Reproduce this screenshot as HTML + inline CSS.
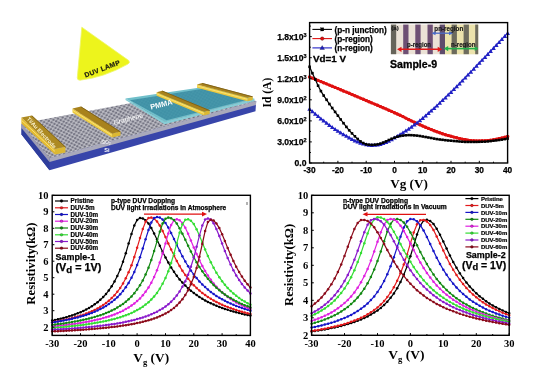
<!DOCTYPE html><html><head><meta charset="utf-8"><title>DUV doping graphene</title>
<style>html,body{margin:0;padding:0;background:#fff}svg{display:block}</style></head><body>
<svg width="550" height="369" viewBox="0 0 550 369">
<rect width="550" height="369" fill="#fff"/>
<g>
<defs><marker id="mk" markerUnits="userSpaceOnUse" markerWidth="4" markerHeight="4" refX="2" refY="2"><circle cx="2" cy="2" r="1.25" fill="#000"/></marker><marker id="mr" markerUnits="userSpaceOnUse" markerWidth="4" markerHeight="4" refX="2" refY="2"><circle cx="2" cy="2" r="1.25" fill="#e31a1c"/></marker><marker id="mb" markerUnits="userSpaceOnUse" markerWidth="4" markerHeight="4" refX="2" refY="2"><circle cx="2" cy="2" r="1.25" fill="#1515c8"/></marker><marker id="mg" markerUnits="userSpaceOnUse" markerWidth="4" markerHeight="4" refX="2" refY="2"><circle cx="2" cy="2" r="1.25" fill="#118811"/></marker><marker id="mm" markerUnits="userSpaceOnUse" markerWidth="4" markerHeight="4" refX="2" refY="2"><circle cx="2" cy="2" r="1.25" fill="#e020e0"/></marker><marker id="mG" markerUnits="userSpaceOnUse" markerWidth="4" markerHeight="4" refX="2" refY="2"><circle cx="2" cy="2" r="1.25" fill="#33dd33"/></marker><marker id="mp" markerUnits="userSpaceOnUse" markerWidth="4" markerHeight="4" refX="2" refY="2"><circle cx="2" cy="2" r="1.25" fill="#8a1acc"/></marker><marker id="mR" markerUnits="userSpaceOnUse" markerWidth="4" markerHeight="4" refX="2" refY="2"><circle cx="2" cy="2" r="1.25" fill="#8b0a1a"/></marker><marker id="tk" markerUnits="userSpaceOnUse" markerWidth="4" markerHeight="4" refX="2" refY="2"><rect x="0.7" y="0.7" width="2.6" height="2.6" fill="#000"/></marker><marker id="tr" markerUnits="userSpaceOnUse" markerWidth="4" markerHeight="4" refX="2" refY="2"><circle cx="2" cy="2" r="1.7" fill="#e01010"/></marker><marker id="tb" markerUnits="userSpaceOnUse" markerWidth="5" markerHeight="5" refX="2.5" refY="2.5"><path d="M2.5 0.3L4.8 4.3H0.2Z" fill="#2020c4"/></marker></defs>
<defs><pattern id="gr" patternUnits="userSpaceOnUse" width="4.8" height="4.2" patternTransform="rotate(-14)"><rect width="4.8" height="4.2" fill="#bbbbc3"/><ellipse cx="1.2" cy="1.05" rx="1.3" ry="1.0" fill="#70707f"/><ellipse cx="3.6" cy="3.15" rx="1.3" ry="1.0" fill="#70707f"/></pattern><pattern id="pm" patternUnits="userSpaceOnUse" width="4" height="3.6" patternTransform="rotate(-14)"><rect width="4" height="3.6" fill="#4596aa"/><circle cx="1" cy="0.9" r="0.7" fill="#3a889e"/><circle cx="3" cy="2.7" r="0.7" fill="#3a889e"/></pattern><filter id="soft" x="-5%" y="-5%" width="110%" height="110%"><feGaussianBlur stdDeviation="0.45"/></filter></defs>
<g filter="url(#soft)">
<polygon points="21.5,123.5 49.5,158 256.2,101 255.5,111.3 49.5,170.2 21.5,134.5" fill="#3845aa"/>
<polygon points="21.5,128 49.5,162 49.5,170.2 21.5,134.5" fill="#2f3c9c"/>
<polygon points="21.5,123.5 49.5,158 49.5,162 21.5,128" fill="#9c9cb2"/>
<polygon points="49.5,158 256.2,101 256,105 49.5,162" fill="#a9a9bb"/>
<polygon points="21.5,123.5 49.5,158 256.2,101 206,89" fill="url(#gr)"/>
<polygon points="125.5,98.6 164.5,121.8 254.5,98.8 254.5,101 164.5,124.2 125.5,100.1" fill="#86cdd6"/>
<polygon points="125.5,98.6 164.5,121.8 254.5,98.8 205.5,86.8" fill="#6fbfca"/>
<polygon points="130,100.2 166.5,120.2 248.5,99.6 204.5,88.6" fill="url(#pm)"/>
<polygon points="21.4,117.6 54.9,148.8 54.9,154.6 21.4,123.4" fill="#e2b930"/>
<polygon points="54.9,148.8 65.4,146.7 65.4,152.5 54.9,154.6" fill="#dcb832"/>
<polygon points="21.4,117.6 31.9,115.5 65.4,146.7 54.9,148.8" fill="#ad8a22"/>
<path d="M21.4 120.2L54.9 151.4" stroke="#f9e47a" stroke-width="0.9"/>
<path d="M31.9 115.8L65.4 147" stroke="#7e6016" stroke-width="0.9"/>
<polygon points="72.5,108.4 112.1,133.5 112.1,137.5 72.5,112.4" fill="#ecc93e"/>
<polygon points="112.1,133.5 120.5,131.6 120.5,135.6 112.1,137.5" fill="#dcb832"/>
<polygon points="72.5,108.4 80.9,106.5 120.5,131.6 112.1,133.5" fill="#a8821e"/>
<path d="M72.5 110.2L112.1 135.3" stroke="#f9e47a" stroke-width="0.9"/>
<path d="M80.9 106.8L120.5 131.9" stroke="#7e6016" stroke-width="0.9"/>
<polygon points="156.6,92.2 204.1,111.8 204.1,115.4 156.6,95.8" fill="#ecc93e"/>
<polygon points="204.1,111.8 209.7,110.3 209.7,113.9 204.1,115.4" fill="#dcb832"/>
<polygon points="156.6,92.2 162.2,90.7 209.7,110.3 204.1,111.8" fill="#a8821e"/>
<path d="M156.6 93.8L204.1 113.4" stroke="#f9e47a" stroke-width="0.9"/>
<path d="M162.2 91L209.7 110.6" stroke="#7e6016" stroke-width="0.9"/>
<polygon points="197,84.4 247.5,97.8 247.5,101.2 197,87.8" fill="#ecc93e"/>
<polygon points="247.5,97.8 252.7,96.5 252.7,99.9 247.5,101.2" fill="#dcb832"/>
<polygon points="197,84.4 202.2,83.1 252.7,96.5 247.5,97.8" fill="#a8821e"/>
<path d="M197 85.9L247.5 99.3" stroke="#f9e47a" stroke-width="0.9"/>
<path d="M202.2 83.4L252.7 96.8" stroke="#7e6016" stroke-width="0.9"/>
</g>
<g font-family="'Liberation Sans',Arial,sans-serif" fill="#fff">
<text transform="translate(26.5 119.3) rotate(47)" font-size="5.5" font-weight="bold" fill="#fbf4d0">Ti/Au Electrode</text>
<text transform="translate(114.2 125) rotate(-15)" font-size="6.8">Graphene</text>
<text transform="translate(151 109.6) rotate(-14)" font-size="7.4" font-weight="bold">PMMA</text>
<text x="101.2" y="144.3" font-size="4.6">SiO<tspan font-size="3.4" dy="1">2</tspan></text>
<text x="104.3" y="152" font-size="5.6" font-weight="bold">Si</text>
</g>
<path d="M81.8 27.2 L128.8 60.6 Q130.5 63 127.5 64.3 Q104 77.5 80.2 80.2 Q77.2 80.5 77.3 77.5 Z" fill="#edf41e" stroke="#eef66a" stroke-width="0.8" filter="url(#soft)"/>
<text transform="translate(85.6 77.6) rotate(-21)" font-family="'Liberation Sans',Arial,sans-serif" font-size="6.8" font-weight="bold" letter-spacing="0.25" fill="#1a1a10" stroke="#1a1a10" stroke-width="0.2">DUV LAMP</text>
<polyline points="309.6,77 312.4,78.1 315.3,79.3 318.1,80.4 320.9,81.6 323.7,82.8 326.6,83.9 329.4,85.1 332.2,86.2 335.1,87.4 337.9,88.6 340.7,89.8 343.5,91 346.4,92.1 349.2,93.3 352,94.5 354.9,95.7 357.7,96.9 360.5,98.1 363.3,99.3 366.2,100.5 369,101.7 371.8,102.9 374.7,104.1 377.5,105.3 380.3,106.5 383.1,107.7 386,108.9 388.8,110.2 391.6,111.4 394.5,112.7 397.3,114 400.1,115.3 402.9,116.6 405.8,118.1 408.6,119.5 411.4,120.9 414.3,122.2 417.1,123.5 419.9,124.7 422.7,126 425.6,127.2 428.4,128.4 431.2,129.5 434.1,130.7 436.9,131.8 439.7,132.8 442.5,133.8 445.4,134.7 448.2,135.5 451,136.3 453.9,137.1 456.7,137.8 459.5,138.5 462.3,139.1 465.2,139.6 468,140.1 470.8,140.5 473.7,140.8 476.5,140.9 479.3,140.9 482.1,140.8 485,140.7 487.8,140.5 490.6,140.3 493.5,139.8 496.3,139.2 499.1,138.6 501.9,137.9 504.8,137.2 507.6,136.5" fill="none" stroke="#e01010" stroke-width="2.6" marker-start="url(#tr)" marker-mid="url(#tr)" marker-end="url(#tr)"/>
<polyline points="309.6,108.9 312.4,111.5 315.3,113.9 318.1,116.3 320.9,118.6 323.7,120.8 326.6,123 329.4,125.2 332.2,127.3 335.1,129.2 337.9,131 340.7,132.7 343.5,134.4 346.4,136 349.2,137.6 352,139.2 354.9,140.6 357.7,141.8 360.5,142.9 363.3,143.8 366.2,144.5 369,145 371.8,145.1 374.7,144.9 377.5,144.6 380.3,144.1 383.1,143.3 386,142.3 388.8,141 391.6,139.4 394.5,137.7 397.3,136.1 400.1,134.4 402.9,132.6 405.8,130.8 408.6,128.9 411.4,126.9 414.3,124.8 417.1,122.6 419.9,120.4 422.7,118.1 425.6,115.7 428.4,113.2 431.2,110.7 434.1,108.2 436.9,105.6 439.7,102.9 442.5,100.3 445.4,97.6 448.2,94.8 451,92.1 453.9,89.3 456.7,86.5 459.5,83.6 462.3,80.7 465.2,77.8 468,74.8 470.8,71.9 473.7,68.9 476.5,65.9 479.3,63 482.1,60 485,57.1 487.8,54.1 490.6,51.1 493.5,48.1 496.3,45.1 499.1,42.2 501.9,39.2 504.8,36.1 507.6,33.1" fill="none" stroke="#2020c4" stroke-width="1.2" marker-start="url(#tb)" marker-mid="url(#tb)" marker-end="url(#tb)"/>
<polyline points="309.6,66.8 312.4,73.2 315.3,79.5 318.1,85.7 320.9,91.1 323.7,95.6 326.6,99.8 329.4,104 332.2,108 335.1,111.9 337.9,115.7 340.7,119.5 343.5,123.2 346.4,126.9 349.2,130.3 352,133.4 354.9,136.3 357.7,139 360.5,141.4 363.3,143.1 366.2,144.3 369,144.7 371.8,144.9 374.7,144.7 377.5,144.4 380.3,143.7 383.1,142.6 386,141.4 388.8,140 391.6,138.8 394.5,137.7 397.3,136.7 400.1,136 402.9,135.6 405.8,135.3 408.6,135.1 411.4,135.2 414.3,135.4 417.1,135.6 419.9,136 422.7,136.5 425.6,137 428.4,137.5 431.2,138 434.1,138.6 436.9,139.1 439.7,139.5 442.5,139.8 445.4,140.2 448.2,140.5 451,140.7 453.9,141 456.7,141.2 459.5,141.5 462.3,141.7 465.2,141.9 468,141.9 470.8,141.9 473.7,141.9 476.5,141.9 479.3,141.8 482.1,141.7 485,141.6 487.8,141.4 490.6,141.1 493.5,140.7 496.3,140.4 499.1,140 501.9,139.6 504.8,139.1 507.6,138.6" fill="none" stroke="#000" stroke-width="1.2" marker-start="url(#tk)" marker-mid="url(#tk)" marker-end="url(#tk)"/>
<path d="M309.6 163v-2.2M337.9 163v-2.2M366.2 163v-2.2M394.5 163v-2.2M422.7 163v-2.2M451 163v-2.2M479.3 163v-2.2M507.6 163v-2.2M323.7 163v-1.3M352 163v-1.3M380.3 163v-1.3M408.6 163v-1.3M436.9 163v-1.3M465.2 163v-1.3M493.5 163v-1.3M309.6 163h2.2M309.6 141.9h2.2M309.6 120.9h2.2M309.6 99.8h2.2M309.6 78.8h2.2M309.6 57.7h2.2M309.6 36.6h2.2M309.6 152.5h1.3M309.6 131.4h1.3M309.6 110.3h1.3M309.6 89.3h1.3M309.6 68.2h1.3M309.6 47.2h1.3M309.6 26.1h1.3" stroke="#000" stroke-width="1" fill="none"/>
<rect x="309.6" y="22.6" width="198" height="140.4" fill="none" stroke="#000" stroke-width="1.4"/>
<g font-family="'Liberation Sans',Arial,sans-serif" font-weight="bold" font-size="8.3" fill="#000" stroke="#000" stroke-width="0.25" text-anchor="middle">
<text x="309.6" y="172.6">-30</text>
<text x="337.9" y="172.6">-20</text>
<text x="366.2" y="172.6">-10</text>
<text x="394.5" y="172.6">0</text>
<text x="422.7" y="172.6">10</text>
<text x="451" y="172.6">20</text>
<text x="479.3" y="172.6">30</text>
<text x="507.6" y="172.6">40</text>
</g>
<g font-family="'Liberation Sans',Arial,sans-serif" font-weight="bold" font-size="8.6" fill="#000" stroke="#000" stroke-width="0.25" text-anchor="end">
<text x="306.5" y="166">0.0</text>
<text x="306.5" y="144.9">3.0x10<tspan dy="-3" font-size="5.5">2</tspan></text>
<text x="306.5" y="123.9">6.0x10<tspan dy="-3" font-size="5.5">2</tspan></text>
<text x="306.5" y="102.8">9.0x10<tspan dy="-3" font-size="5.5">2</tspan></text>
<text x="306.5" y="81.8">1.2x10<tspan dy="-3" font-size="5.5">3</tspan></text>
<text x="306.5" y="60.7">1.5x10<tspan dy="-3" font-size="5.5">3</tspan></text>
<text x="306.5" y="39.6">1.8x10<tspan dy="-3" font-size="5.5">3</tspan></text>
</g>
<text x="409" y="188.4" font-family="'Liberation Serif','Times New Roman',serif" font-weight="bold" font-size="13.2" text-anchor="middle">Vg (V)</text>
<text transform="translate(271.4 92.6) rotate(-90)" font-family="'Liberation Serif','Times New Roman',serif" font-weight="bold" font-size="11.5" text-anchor="middle">Id (A)</text>
<g font-family="'Liberation Sans',Arial,sans-serif" font-weight="bold" font-size="8.2" fill="#000" stroke="#000" stroke-width="0.25">
<path d="M312.4 29.4H332" stroke="#000" stroke-width="1.1"/>

<rect x="320.6" y="27.8" width="3.2" height="3.2" fill="#000"/>
<text x="334.5" y="32.6">(p-n junction)</text>
<path d="M312.4 38.6H332" stroke="#e01010" stroke-width="1.1"/>

<circle cx="322.2" cy="38.6" r="1.8" fill="#e01010"/>
<text x="334.5" y="41.9">(p-region)</text>
<path d="M312.4 47.9H332" stroke="#2020c4" stroke-width="1.1"/>

<path d="M322.2 45.5l2.3 4h-4.6z" fill="#2020c4"/>
<text x="334.5" y="51.1">(n-region)</text>
</g>
<text x="313" y="62.2" font-family="'Liberation Sans',Arial,sans-serif" font-weight="bold" font-size="9.8" stroke="#000" stroke-width="0.3">Vd=1 V</text>
<rect x="390.9" y="24.6" width="87.3" height="29.6" fill="#ebe2d6"/>
<rect x="443.7" y="24.6" width="34.5" height="29.6" fill="#ece3ac"/>
<rect x="390.9" y="24.6" width="5.3" height="29.6" fill="#66645a"/>
<rect x="403.2" y="24.6" width="5.3" height="29.6" fill="#6e5074"/>
<rect x="415.3" y="24.6" width="5.3" height="29.6" fill="#6e5074"/>
<rect x="427.5" y="24.6" width="5.3" height="29.6" fill="#6e5074"/>
<rect x="439.7" y="24.6" width="5.3" height="29.6" fill="#5e4c6c"/>
<rect x="451.6" y="24.6" width="5.3" height="29.6" fill="#6c6a5c"/>
<rect x="463.6" y="24.6" width="5.3" height="29.6" fill="#6e6c5e"/>
<rect x="475.2" y="24.6" width="3" height="29.6" fill="#6e6c5e"/>
<g font-family="'Liberation Sans',Arial,sans-serif" font-weight="bold" font-size="7.2" fill="#1a1a1a" stroke="#1a1a1a" stroke-width="0.2">
<text x="391.3" y="30.3" font-size="6">(a)</text>
<text x="434.3" y="30.6" textLength="29" lengthAdjust="spacingAndGlyphs">pn-region</text>
<text x="407" y="46.6" textLength="24" lengthAdjust="spacingAndGlyphs">p-region</text>
<text x="451" y="46.6" textLength="24.5" lengthAdjust="spacingAndGlyphs">n-region</text>
</g>
<path d="M435 33.2H450" stroke="#4a6cc8" stroke-width="1.3"/><path d="M431.5 33.2l4 -2v4z M453 33.2l-4 -2v4z" fill="#4a6cc8"/>
<path d="M400.5 49.3H438.5" stroke="#e01a1a" stroke-width="1.6"/><path d="M397 49.3l4.5 -2.6v5.2z M442.2 49.3l-4.5 -2.6v5.2z" fill="#e01a1a"/>
<path d="M447.5 48.6H477.5" stroke="#22b04a" stroke-width="1.6"/><path d="M443.7 48.6l4.5 -2.6v5.2z M478.2 48.6l-3.5 -2.4v4.8z" fill="#22b04a"/>
<text x="390" y="68" font-family="'Liberation Sans',Arial,sans-serif" font-weight="bold" font-size="10.6" fill="#000" stroke="#000" stroke-width="0.3">Sample-9</text>
<polyline points="52.2,320.6 55,320 57.9,319.3 60.7,318.7 63.5,317.9 66.4,317.2 69.2,316.3 72,315.4 74.9,314.4 77.7,313.3 80.5,312.2 83.3,310.9 86.2,309.5 89,308 91.8,306.3 94.7,304.3 97.5,302.2 100.3,299.8 103.2,297.1 106,294 108.8,290.4 111.7,286.3 114.5,281.5 117.3,275.9 120.2,269.4 123,261.8 125.8,253.2 128.6,243.6 131.5,233.9 134.3,225.4 137.1,219.9 140,218.1 142.8,218.4 145.6,220.2 148.5,223.5 151.3,228.1 154.1,233.6 157,239.6 159.8,245.8 162.6,251.7 165.5,257.4 168.3,262.6 171.1,267.4 174,271.8 176.8,275.8 179.6,279.4 182.4,282.6 185.3,285.6 188.1,288.3 190.9,290.8 193.8,293 196.6,295.1 199.4,297 202.3,298.8 205.1,300.4 207.9,301.9 210.8,303.3 213.6,304.5 216.4,305.7 219.3,306.9 222.1,307.9 224.9,308.9 227.7,309.8 230.6,310.7 233.4,311.5 236.2,312.3 239.1,313 241.9,313.7 244.7,314.4 247.6,315 250.4,315.6" fill="none" stroke="#000" stroke-width="1.2" marker-start="url(#mk)" marker-mid="url(#mk)" marker-end="url(#mk)"/>
<polyline points="52.2,322.2 55,321.7 57.9,321.2 60.7,320.7 63.5,320.1 66.4,319.5 69.2,318.8 72,318.1 74.9,317.3 77.7,316.5 80.5,315.6 83.3,314.7 86.2,313.6 89,312.5 91.8,311.3 94.7,309.9 97.5,308.5 100.3,306.8 103.2,305 106,303 108.8,300.7 111.7,298.1 114.5,295.2 117.3,291.8 120.2,288 123,283.5 125.8,278.3 128.6,272.2 131.5,265.2 134.3,257 137.1,247.8 140,238.1 142.8,228.9 145.6,221.7 148.5,218 151.3,217.6 154.1,218.7 157,221.4 159.8,225.6 162.6,231 165.5,237.1 168.3,243.4 171.1,249.6 174,255.6 176.8,261.1 179.6,266.1 182.4,270.8 185.3,274.9 188.1,278.7 190.9,282.1 193.8,285.2 196.6,288 199.4,290.6 202.3,292.9 205.1,295 207.9,297 210.8,298.8 213.6,300.4 216.4,301.9 219.3,303.4 222.1,304.7 224.9,305.9 227.7,307 230.6,308.1 233.4,309.1 236.2,310 239.1,310.9 241.9,311.8 244.7,312.5 247.6,313.3 250.4,314" fill="none" stroke="#e31a1c" stroke-width="1.2" marker-start="url(#mr)" marker-mid="url(#mr)" marker-end="url(#mr)"/>
<polyline points="52.2,322.5 55,322.1 57.9,321.6 60.7,321.1 63.5,320.6 66.4,320 69.2,319.4 72,318.8 74.9,318.1 77.7,317.4 80.5,316.6 83.3,315.8 86.2,314.9 89,313.9 91.8,312.9 94.7,311.7 97.5,310.5 100.3,309.1 103.2,307.6 106,306 108.8,304.1 111.7,302.1 114.5,299.8 117.3,297.2 120.2,294.3 123,291 125.8,287.2 128.6,282.9 131.5,277.8 134.3,271.9 137.1,265.1 140,257.3 142.8,248.5 145.6,239.2 148.5,230 151.3,222.5 154.1,218.1 157,217.1 159.8,217.6 162.6,219.6 165.5,223 168.3,227.6 171.1,233.1 174,238.9 176.8,244.9 179.6,250.8 182.4,256.3 185.3,261.5 188.1,266.2 190.9,270.6 193.8,274.5 196.6,278.1 199.4,281.4 202.3,284.4 205.1,287.1 207.9,289.6 210.8,291.9 213.6,294 216.4,295.9 219.3,297.7 222.1,299.3 224.9,300.8 227.7,302.2 230.6,303.5 233.4,304.8 236.2,305.9 239.1,307 241.9,308 244.7,308.9 247.6,309.8 250.4,310.7" fill="none" stroke="#1515c8" stroke-width="1.2" marker-start="url(#mb)" marker-mid="url(#mb)" marker-end="url(#mb)"/>
<polyline points="52.2,326.5 55,326.2 57.9,325.9 60.7,325.6 63.5,325.3 66.4,324.9 69.2,324.6 72,324.2 74.9,323.8 77.7,323.4 80.5,322.9 83.3,322.4 86.2,321.9 89,321.4 91.8,320.8 94.7,320.2 97.5,319.6 100.3,318.9 103.2,318.1 106,317.3 108.8,316.4 111.7,315.4 114.5,314.4 117.3,313.3 120.2,312 123,310.7 125.8,309.1 128.6,307.5 131.5,305.6 134.3,303.5 137.1,301.1 140,298.4 142.8,295.3 145.6,291.7 148.5,287.6 151.3,282.7 154.1,277 157,270.3 159.8,262.4 162.6,253.4 165.5,243.4 168.3,233.4 171.1,225.1 174,220.2 176.8,219.2 179.6,220.2 182.4,223.1 185.3,227.8 188.1,233.8 190.9,240.6 193.8,247.4 196.6,254.1 199.4,260.3 202.3,265.9 205.1,271 207.9,275.6 210.8,279.7 213.6,283.4 216.4,286.7 219.3,289.7 222.1,292.3 224.9,294.7 227.7,296.9 230.6,298.9 233.4,300.8 236.2,302.4 239.1,304 241.9,305.4 244.7,306.7 247.6,307.9 250.4,309" fill="none" stroke="#e020e0" stroke-width="1.2" marker-start="url(#mm)" marker-mid="url(#mm)" marker-end="url(#mm)"/>
<polyline points="52.2,324.9 55,324.5 57.9,324.1 60.7,323.8 63.5,323.4 66.4,322.9 69.2,322.5 72,322 74.9,321.5 77.7,321 80.5,320.4 83.3,319.8 86.2,319.2 89,318.5 91.8,317.7 94.7,317 97.5,316.1 100.3,315.2 103.2,314.2 106,313.1 108.8,311.9 111.7,310.6 114.5,309.2 117.3,307.6 120.2,305.8 123,303.9 125.8,301.7 128.6,299.2 131.5,296.4 134.3,293.2 137.1,289.5 140,285.3 142.8,280.4 145.6,274.6 148.5,267.8 151.3,260 154.1,251.1 157,241.4 159.8,231.7 162.6,223.6 165.5,218.7 168.3,217.6 171.1,218.2 174,220.1 176.8,223.6 179.6,228.2 182.4,233.7 185.3,239.7 188.1,245.7 190.9,251.5 193.8,257.1 196.6,262.2 199.4,267 202.3,271.3 205.1,275.2 207.9,278.8 210.8,282 213.6,285 216.4,287.7 219.3,290.2 222.1,292.4 224.9,294.5 227.7,296.4 230.6,298.1 233.4,299.8 236.2,301.3 239.1,302.7 241.9,304 244.7,305.2 247.6,306.3 250.4,307.4" fill="none" stroke="#118811" stroke-width="1.2" marker-start="url(#mg)" marker-mid="url(#mg)" marker-end="url(#mg)"/>
<polyline points="52.2,328 55,327.8 57.9,327.5 60.7,327.3 63.5,327 66.4,326.7 69.2,326.4 72,326.1 74.9,325.8 77.7,325.5 80.5,325.2 83.3,324.8 86.2,324.4 89,324 91.8,323.6 94.7,323.1 97.5,322.6 100.3,322.1 103.2,321.5 106,320.9 108.8,320.3 111.7,319.6 114.5,318.9 117.3,318.1 120.2,317.2 123,316.3 125.8,315.3 128.6,314.2 131.5,313 134.3,311.6 137.1,310.1 140,308.5 142.8,306.7 145.6,304.6 148.5,302.2 151.3,299.5 154.1,296.5 157,292.9 159.8,288.7 162.6,283.8 165.5,278 168.3,271.2 171.1,263 174,253.6 176.8,243.2 179.6,232.7 182.4,224.2 185.3,219.8 188.1,219.3 190.9,220.7 193.8,224.1 196.6,229.2 199.4,235.6 202.3,242.5 205.1,249.4 207.9,256.1 210.8,262.2 213.6,267.7 216.4,272.7 219.3,277.2 222.1,281.2 224.9,284.8 227.7,288 230.6,290.9 233.4,293.4 236.2,295.8 239.1,297.9 241.9,299.9 244.7,301.6 247.6,303.3 250.4,304.7" fill="none" stroke="#33dd33" stroke-width="1.2" marker-start="url(#mG)" marker-mid="url(#mG)" marker-end="url(#mG)"/>
<polyline points="52.2,329.8 55,329.6 57.9,329.5 60.7,329.3 63.5,329.1 66.4,328.9 69.2,328.7 72,328.5 74.9,328.3 77.7,328.1 80.5,327.8 83.3,327.6 86.2,327.3 89,327 91.8,326.8 94.7,326.5 97.5,326.1 100.3,325.8 103.2,325.5 106,325.1 108.8,324.7 111.7,324.3 114.5,323.9 117.3,323.4 120.2,322.9 123,322.4 125.8,321.8 128.6,321.2 131.5,320.6 134.3,319.9 137.1,319.1 140,318.3 142.8,317.5 145.6,316.5 148.5,315.5 151.3,314.3 154.1,313 157,311.7 159.8,310.1 162.6,308.4 165.5,306.4 168.3,304.2 171.1,301.7 174,298.8 176.8,295.4 179.6,291.5 182.4,286.8 185.3,281.3 188.1,274.7 190.9,266.8 193.8,257.5 196.6,246.8 199.4,235.6 202.3,225.6 205.1,219.6 207.9,218.4 210.8,219.6 213.6,223.2 216.4,228.9 219.3,236 222.1,243.6 224.9,251.1 227.7,258.1 230.6,264.5 233.4,270.3 236.2,275.4 239.1,279.9 241.9,283.9 244.7,287.4 247.6,290.6 250.4,293.4" fill="none" stroke="#8a1acc" stroke-width="1.2" marker-start="url(#mp)" marker-mid="url(#mp)" marker-end="url(#mp)"/>
<polyline points="52.2,331.4 55,331.3 57.9,331.2 60.7,331 63.5,330.9 66.4,330.7 69.2,330.6 72,330.4 74.9,330.2 77.7,330.1 80.5,329.9 83.3,329.7 86.2,329.5 89,329.3 91.8,329 94.7,328.8 97.5,328.5 100.3,328.3 103.2,328 106,327.7 108.8,327.4 111.7,327.1 114.5,326.8 117.3,326.4 120.2,326 123,325.6 125.8,325.2 128.6,324.7 131.5,324.2 134.3,323.7 137.1,323.1 140,322.5 142.8,321.8 145.6,321.1 148.5,320.3 151.3,319.4 154.1,318.5 157,317.4 159.8,316.2 162.6,314.9 165.5,313.5 168.3,311.9 171.1,310 174,307.9 176.8,305.4 179.6,302.5 182.4,299.2 185.3,295.1 188.1,290.3 190.9,284.3 193.8,277 196.6,267.9 199.4,256.8 202.3,244 205.1,231.1 207.9,222 210.8,219.7 213.6,220.6 216.4,223.4 219.3,228.1 222.1,234.2 224.9,241.1 227.7,248.1 230.6,254.8 233.4,261.1 236.2,266.8 239.1,272 241.9,276.5 244.7,280.7 247.6,284.3 250.4,287.6" fill="none" stroke="#8b0a1a" stroke-width="1.2" marker-start="url(#mR)" marker-mid="url(#mR)" marker-end="url(#mR)"/>
<path d="M52.2 335.4v-2.2M80.5 335.4v-2.2M108.8 335.4v-2.2M137.1 335.4v-2.2M165.5 335.4v-2.2M193.8 335.4v-2.2M222.1 335.4v-2.2M250.4 335.4v-2.2M66.4 335.4v-1.3M94.7 335.4v-1.3M123 335.4v-1.3M151.3 335.4v-1.3M179.6 335.4v-1.3M207.9 335.4v-1.3M236.2 335.4v-1.3M52.2 327.2h2.2M52.2 310.7h2.2M52.2 294.2h2.2M52.2 277.7h2.2M52.2 261.2h2.2M52.2 244.7h2.2M52.2 228.3h2.2M52.2 211.8h2.2M52.2 195.3h2.2" stroke="#000" stroke-width="1" fill="none"/>
<rect x="52.2" y="195.3" width="198.2" height="140.1" fill="none" stroke="#000" stroke-width="1.4"/>
<g font-family="'Liberation Serif','Times New Roman',serif" font-weight="bold" font-size="10.5" fill="#000" text-anchor="middle">
<text x="52.2" y="347.2">-30</text>
<text x="80.5" y="347.2">-20</text>
<text x="108.8" y="347.2">-10</text>
<text x="137.1" y="347.2">0</text>
<text x="165.5" y="347.2">10</text>
<text x="193.8" y="347.2">20</text>
<text x="222.1" y="347.2">30</text>
<text x="250.4" y="347.2">40</text>
</g><g font-family="'Liberation Serif','Times New Roman',serif" font-weight="bold" font-size="10.5" fill="#000" text-anchor="end">
<text x="48.5" y="330.8">2</text>
<text x="48.5" y="314.3">3</text>
<text x="48.5" y="297.8">4</text>
<text x="48.5" y="281.3">5</text>
<text x="48.5" y="264.8">6</text>
<text x="48.5" y="248.3">7</text>
<text x="48.5" y="231.9">8</text>
<text x="48.5" y="215.4">9</text>
<text x="48.5" y="198.9">10</text>
</g>
<text transform="translate(34.6 263.6) rotate(-90)" font-family="'Liberation Serif','Times New Roman',serif" font-weight="bold" font-size="12.7" text-anchor="middle">Resistivity(k&#937;)</text>
<text x="133.3" y="362.4" font-family="'Liberation Serif','Times New Roman',serif" font-weight="bold" font-size="12.4" textLength="35.8" lengthAdjust="spacingAndGlyphs">V<tspan font-size="8" dy="2.6">g</tspan><tspan dy="-2.6"> (V)</tspan></text>
<g font-family="'Liberation Sans',Arial,sans-serif" font-weight="bold" font-size="6.3" fill="#000" stroke="#000" stroke-width="0.2">
<path d="M55 201h13" stroke="#000" stroke-width="1.2"/><circle cx="61.5" cy="201" r="1.4" fill="#000"/>
<text x="70.5" y="203.2">Pristine</text>
<path d="M55 207.8h13" stroke="#e31a1c" stroke-width="1.2"/><circle cx="61.5" cy="207.8" r="1.4" fill="#e31a1c"/>
<text x="70.5" y="209.9">DUV-5m</text>
<path d="M55 214.5h13" stroke="#1515c8" stroke-width="1.2"/><circle cx="61.5" cy="214.5" r="1.4" fill="#1515c8"/>
<text x="70.5" y="216.7">DUV-10m</text>
<path d="M55 221.2h13" stroke="#e020e0" stroke-width="1.2"/><circle cx="61.5" cy="221.2" r="1.4" fill="#e020e0"/>
<text x="70.5" y="223.4">DUV-20m</text>
<path d="M55 228h13" stroke="#118811" stroke-width="1.2"/><circle cx="61.5" cy="228" r="1.4" fill="#118811"/>
<text x="70.5" y="230.2">DUV-30m</text>
<path d="M55 234.8h13" stroke="#33dd33" stroke-width="1.2"/><circle cx="61.5" cy="234.8" r="1.4" fill="#33dd33"/>
<text x="70.5" y="236.9">DUV-40m</text>
<path d="M55 241.5h13" stroke="#8a1acc" stroke-width="1.2"/><circle cx="61.5" cy="241.5" r="1.4" fill="#8a1acc"/>
<text x="70.5" y="243.7">DUV-50m</text>
<path d="M55 248.2h13" stroke="#8b0a1a" stroke-width="1.2"/><circle cx="61.5" cy="248.2" r="1.4" fill="#8b0a1a"/>
<text x="70.5" y="250.4">DUV-60m</text>
</g>
<g font-family="'Liberation Sans',Arial,sans-serif" font-weight="bold" fill="#000" stroke="#000" stroke-width="0.25">
<text x="55.5" y="259.8" font-size="9.5" textLength="39.8" lengthAdjust="spacingAndGlyphs">Sample-1</text>
<text x="55.5" y="271.2" font-size="10.6" textLength="45.8" lengthAdjust="spacingAndGlyphs">(V<tspan font-size="9.5" dy="1.8">d</tspan><tspan dy="-1.8"> = 1V)</tspan></text>
<text x="111" y="202.6" font-size="6.6">p-type DUV Dopping</text>
<text x="111" y="209.5" font-size="6.6">DUV light Irradiations in Atmosphere</text>
</g>
<path d="M144 214.1H203" stroke="#e01010" stroke-width="1.3"/><path d="M207 214.1l-5 -2.3v4.6z" fill="#e01010"/>
<path d="M247 202v3" stroke="#000" stroke-width="0.6"/>
<polyline points="311.6,331.4 314.9,331 318.2,330.5 321.5,329.9 324.8,329.4 328.1,328.8 331.4,328.1 334.7,327.4 337.9,326.7 341.2,325.9 344.5,325 347.8,324.1 351.1,323.1 354.4,322 357.7,320.8 361,319.5 364.3,318 367.6,316.4 370.9,314.6 374.2,312.6 377.5,310.4 380.8,307.9 384.1,305 387.3,301.7 390.6,297.8 393.9,293.4 397.2,288.2 400.5,282 403.8,274.7 407.1,266.2 410.4,256.3 413.7,245.5 417,234.6 420.3,225.6 423.6,220.6 426.9,219.8 430.2,221 433.5,223.9 436.7,228.7 440,234.8 443.3,241.6 446.6,248.6 449.9,255.5 453.2,261.9 456.5,267.8 459.8,273.3 463.1,278.1 466.4,282.5 469.7,286.5 473,290 476.3,293.3 479.6,296.2 482.9,298.8 486.1,301.2 489.4,303.4 492.7,305.4 496,307.2 499.3,308.9 502.6,310.5 505.9,311.9 509.2,313.2" fill="none" stroke="#000" stroke-width="1.2" marker-start="url(#mk)" marker-mid="url(#mk)" marker-end="url(#mk)"/>
<polyline points="311.6,330.9 314.9,330.4 318.2,329.9 321.5,329.3 324.8,328.7 328.1,328 331.4,327.3 334.7,326.6 337.9,325.8 341.2,324.9 344.5,324 347.8,322.9 351.1,321.8 354.4,320.6 357.7,319.3 361,317.8 364.3,316.2 367.6,314.3 370.9,312.3 374.2,310 377.5,307.4 380.8,304.5 384.1,301.1 387.3,297.1 390.6,292.5 393.9,287.2 397.2,280.8 400.5,273.3 403.8,264.5 407.1,254.4 410.4,243.4 413.7,232.6 417,224.3 420.3,220.2 423.6,219.9 426.9,221.5 430.2,224.9 433.5,230.1 436.7,236.5 440,243.5 443.3,250.6 446.6,257.5 449.9,263.9 453.2,269.7 456.5,275 459.8,279.8 463.1,284.1 466.4,287.9 469.7,291.4 473,294.5 476.3,297.3 479.6,299.9 482.9,302.2 486.1,304.4 489.4,306.3 492.7,308.1 496,309.7 499.3,311.3 502.6,312.7 505.9,314 509.2,315.2" fill="none" stroke="#e31a1c" stroke-width="1.2" marker-start="url(#mr)" marker-mid="url(#mr)" marker-end="url(#mr)"/>
<polyline points="311.6,327.6 314.9,326.9 318.2,326.2 321.5,325.4 324.8,324.6 328.1,323.7 331.4,322.8 334.7,321.7 337.9,320.6 341.2,319.3 344.5,318 347.8,316.5 351.1,314.9 354.4,313.1 357.7,311 361,308.8 364.3,306.3 367.6,303.4 370.9,300.1 374.2,296.4 377.5,292 380.8,287 384.1,281.1 387.3,274.3 390.6,266.3 393.9,257.2 397.2,247.1 400.5,236.8 403.8,227.6 407.1,221.3 410.4,219 413.7,219.3 417,221.3 420.3,225.2 423.6,230.6 426.9,237.1 430.2,244.1 433.5,251 436.7,257.7 440,263.9 443.3,269.7 446.6,274.8 449.9,279.5 453.2,283.7 456.5,287.5 459.8,290.9 463.1,294 466.4,296.8 469.7,299.4 473,301.7 476.3,303.8 479.6,305.7 482.9,307.5 486.1,309.2 489.4,310.7 492.7,312.1 496,313.4 499.3,314.6 502.6,315.7 505.9,316.8 509.2,317.8" fill="none" stroke="#1515c8" stroke-width="1.2" marker-start="url(#mb)" marker-mid="url(#mb)" marker-end="url(#mb)"/>
<polyline points="311.6,323.8 314.9,322.8 318.2,321.8 321.5,320.7 324.8,319.5 328.1,318.2 331.4,316.7 334.7,315.2 337.9,313.4 341.2,311.5 344.5,309.3 347.8,306.9 351.1,304.1 354.4,301 357.7,297.5 361,293.4 364.3,288.7 367.6,283.3 370.9,276.9 374.2,269.5 377.5,261 380.8,251.4 384.1,241.2 387.3,231.5 390.6,223.8 393.9,219.6 397.2,219 400.5,219.9 403.8,222.6 407.1,226.8 410.4,232.4 413.7,238.7 417,245.3 420.3,251.9 423.6,258.2 426.9,264.1 430.2,269.5 433.5,274.5 436.7,279 440,283 443.3,286.7 446.6,290 449.9,293 453.2,295.8 456.5,298.3 459.8,300.6 463.1,302.7 466.4,304.6 469.7,306.4 473,308.1 476.3,309.6 479.6,311 482.9,312.3 486.1,313.5 489.4,314.7 492.7,315.8 496,316.8 499.3,317.7 502.6,318.6 505.9,319.5 509.2,320.2" fill="none" stroke="#118811" stroke-width="1.2" marker-start="url(#mg)" marker-mid="url(#mg)" marker-end="url(#mg)"/>
<polyline points="311.6,320.9 314.9,319.8 318.2,318.6 321.5,317.3 324.8,315.8 328.1,314.2 331.4,312.4 334.7,310.5 337.9,308.3 341.2,305.8 344.5,303.1 347.8,300 351.1,296.4 354.4,292.4 357.7,287.7 361,282.3 364.3,276.1 367.6,268.9 370.9,260.6 374.2,251.4 377.5,241.7 380.8,232.2 384.1,224.5 387.3,220 390.6,218.9 393.9,219.6 397.2,221.8 400.5,225.7 403.8,230.9 407.1,237 410.4,243.6 413.7,250.1 417,256.5 420.3,262.4 423.6,267.9 426.9,272.9 430.2,277.5 433.5,281.7 436.7,285.4 440,288.8 443.3,291.9 446.6,294.8 449.9,297.3 453.2,299.7 456.5,301.8 459.8,303.8 463.1,305.6 466.4,307.3 469.7,308.9 473,310.3 476.3,311.7 479.6,312.9 482.9,314.1 486.1,315.2 489.4,316.2 492.7,317.2 496,318.1 499.3,319 502.6,319.8 505.9,320.6 509.2,321.3" fill="none" stroke="#e020e0" stroke-width="1.2" marker-start="url(#mm)" marker-mid="url(#mm)" marker-end="url(#mm)"/>
<polyline points="311.6,315.9 314.9,314.3 318.2,312.6 321.5,310.6 324.8,308.5 328.1,306.1 331.4,303.4 334.7,300.4 337.9,296.9 341.2,293 344.5,288.5 347.8,283.2 351.1,277.2 354.4,270.2 357.7,262.1 361,253.1 364.3,243.3 367.6,233.5 370.9,224.9 374.2,219.3 377.5,217.2 380.8,217.5 384.1,219 387.3,222 390.6,226.4 393.9,231.8 397.2,237.8 400.5,244.1 403.8,250.3 407.1,256.2 410.4,261.8 413.7,267.1 417,271.8 420.3,276.2 423.6,280.2 426.9,283.8 430.2,287.2 433.5,290.2 436.7,293 440,295.5 443.3,297.8 446.6,300 449.9,302 453.2,303.8 456.5,305.5 459.8,307.1 463.1,308.6 466.4,309.9 469.7,311.2 473,312.4 476.3,313.5 479.6,314.6 482.9,315.6 486.1,316.5 489.4,317.4 492.7,318.2 496,319 499.3,319.8 502.6,320.5 505.9,321.2 509.2,321.8" fill="none" stroke="#33dd33" stroke-width="1.2" marker-start="url(#mG)" marker-mid="url(#mG)" marker-end="url(#mG)"/>
<polyline points="311.6,313.2 314.9,311.4 318.2,309.4 321.5,307.2 324.8,304.7 328.1,302 331.4,298.8 334.7,295.2 337.9,291.2 341.2,286.5 344.5,281.1 347.8,274.9 351.1,267.8 354.4,259.7 357.7,250.8 361,241.3 364.3,232.2 367.6,224.7 370.9,220.2 374.2,218.9 377.5,219.4 380.8,221.3 384.1,224.7 387.3,229.5 390.6,235.1 393.9,241.3 397.2,247.6 400.5,253.8 403.8,259.7 407.1,265.2 410.4,270.2 413.7,274.9 417,279.1 420.3,282.9 423.6,286.4 426.9,289.6 430.2,292.5 433.5,295.2 436.7,297.6 440,299.9 443.3,301.9 446.6,303.8 449.9,305.6 453.2,307.2 456.5,308.7 459.8,310.1 463.1,311.4 466.4,312.6 469.7,313.8 473,314.9 476.3,315.9 479.6,316.8 482.9,317.7 486.1,318.6 489.4,319.4 492.7,320.1 496,320.9 499.3,321.5 502.6,322.2 505.9,322.8 509.2,323.4" fill="none" stroke="#8a1acc" stroke-width="1.2" marker-start="url(#mp)" marker-mid="url(#mp)" marker-end="url(#mp)"/>
<polyline points="311.6,306.2 314.9,303.6 318.2,300.7 321.5,297.4 324.8,293.6 328.1,289.2 331.4,284.3 334.7,278.5 337.9,271.9 341.2,264.4 344.5,255.9 347.8,246.7 351.1,237.4 354.4,229 357.7,222.9 361,220.1 364.3,219.9 367.6,221 370.9,223.5 374.2,227.3 377.5,232.3 380.8,238 384.1,244 387.3,250.1 390.6,256 393.9,261.6 397.2,266.8 400.5,271.6 403.8,276 407.1,280.1 410.4,283.7 413.7,287.1 417,290.2 420.3,293 423.6,295.5 426.9,297.9 430.2,300 433.5,302 436.7,303.9 440,305.6 443.3,307.2 446.6,308.7 449.9,310 453.2,311.3 456.5,312.5 459.8,313.7 463.1,314.7 466.4,315.7 469.7,316.7 473,317.6 476.3,318.4 479.6,319.2 482.9,319.9 486.1,320.7 489.4,321.3 492.7,322 496,322.6 499.3,323.2 502.6,323.8 505.9,324.3 509.2,324.8" fill="none" stroke="#8b0a1a" stroke-width="1.2" marker-start="url(#mR)" marker-mid="url(#mR)" marker-end="url(#mR)"/>
<path d="M311.6 335.3v-2.2M344.5 335.3v-2.2M377.5 335.3v-2.2M410.4 335.3v-2.2M443.3 335.3v-2.2M476.3 335.3v-2.2M509.2 335.3v-2.2M328.1 335.3v-1.3M361 335.3v-1.3M393.9 335.3v-1.3M426.9 335.3v-1.3M459.8 335.3v-1.3M492.7 335.3v-1.3M311.6 335.3h2.2M311.6 317.8h2.2M311.6 300.3h2.2M311.6 282.8h2.2M311.6 265.3h2.2M311.6 247.8h2.2M311.6 230.3h2.2M311.6 212.8h2.2M311.6 195.3h2.2" stroke="#000" stroke-width="1" fill="none"/>
<rect x="311.6" y="195.3" width="197.6" height="140" fill="none" stroke="#000" stroke-width="1.4"/>
<g font-family="'Liberation Serif','Times New Roman',serif" font-weight="bold" font-size="10.5" fill="#000" text-anchor="middle">
<text x="311.6" y="347.2">-30</text>
<text x="344.5" y="347.2">-20</text>
<text x="377.5" y="347.2">-10</text>
<text x="410.4" y="347.2">0</text>
<text x="443.3" y="347.2">10</text>
<text x="476.3" y="347.2">20</text>
<text x="509.2" y="347.2">30</text>
</g><g font-family="'Liberation Serif','Times New Roman',serif" font-weight="bold" font-size="10.5" fill="#000" text-anchor="end">
<text x="308.3" y="338.9">2</text>
<text x="308.3" y="321.4">3</text>
<text x="308.3" y="303.9">4</text>
<text x="308.3" y="286.4">5</text>
<text x="308.3" y="268.9">6</text>
<text x="308.3" y="251.4">7</text>
<text x="308.3" y="233.9">8</text>
<text x="308.3" y="216.4">9</text>
<text x="308.3" y="198.9">10</text>
</g>
<text transform="translate(292.6 264.9) rotate(-90)" font-family="'Liberation Serif','Times New Roman',serif" font-weight="bold" font-size="12.7" text-anchor="middle">Resistivity(k&#937;)</text>
<text x="388.3" y="359.4" font-family="'Liberation Serif','Times New Roman',serif" font-weight="bold" font-size="12.4" textLength="36.3" lengthAdjust="spacingAndGlyphs">V<tspan font-size="8" dy="2.6">g</tspan><tspan dy="-2.6"> (V)</tspan></text>
<g font-family="'Liberation Sans',Arial,sans-serif" font-weight="bold" font-size="6" fill="#000" stroke="#000" stroke-width="0.2">
<path d="M465.4 198.6h13" stroke="#000" stroke-width="1.2"/><circle cx="471.9" cy="198.6" r="1.4" fill="#000"/>
<text x="480.9" y="200.8">Pristine</text>
<path d="M465.4 205.5h13" stroke="#e31a1c" stroke-width="1.2"/><circle cx="471.9" cy="205.5" r="1.4" fill="#e31a1c"/>
<text x="480.9" y="207.7">DUV-5m</text>
<path d="M465.4 212.4h13" stroke="#1515c8" stroke-width="1.2"/><circle cx="471.9" cy="212.4" r="1.4" fill="#1515c8"/>
<text x="480.9" y="214.6">DUV-10m</text>
<path d="M465.4 219.3h13" stroke="#118811" stroke-width="1.2"/><circle cx="471.9" cy="219.3" r="1.4" fill="#118811"/>
<text x="480.9" y="221.5">DUV-20m</text>
<path d="M465.4 226.2h13" stroke="#e020e0" stroke-width="1.2"/><circle cx="471.9" cy="226.2" r="1.4" fill="#e020e0"/>
<text x="480.9" y="228.4">DUV-30m</text>
<path d="M465.4 233.1h13" stroke="#33dd33" stroke-width="1.2"/><circle cx="471.9" cy="233.1" r="1.4" fill="#33dd33"/>
<text x="480.9" y="235.3">DUV-40m</text>
<path d="M465.4 240h13" stroke="#8a1acc" stroke-width="1.2"/><circle cx="471.9" cy="240" r="1.4" fill="#8a1acc"/>
<text x="480.9" y="242.2">DUV-50m</text>
<path d="M465.4 246.9h13" stroke="#8b0a1a" stroke-width="1.2"/><circle cx="471.9" cy="246.9" r="1.4" fill="#8b0a1a"/>
<text x="480.9" y="249.1">DUV-60m</text>
</g>
<g font-family="'Liberation Sans',Arial,sans-serif" font-weight="bold" fill="#000" stroke="#000" stroke-width="0.25">
<text x="465.9" y="258.1" font-size="9.5" textLength="39.8" lengthAdjust="spacingAndGlyphs">Sample-2</text>
<text x="462" y="268.6" font-size="10.6" textLength="44.3" lengthAdjust="spacingAndGlyphs">(V<tspan font-size="9.5" dy="1.8">d</tspan><tspan dy="-1.8"> = 1V)</tspan></text>
<text x="343" y="202.6" font-size="6.7">n-type DUV Dopping</text>
<text x="343" y="209.3" font-size="6.7">DUV light Irradiations in Vacuum</text>
</g>
<path d="M367 214.3H426" stroke="#e01010" stroke-width="1.3"/><path d="M362.5 214.3l5 -2.3v4.6z" fill="#e01010"/>
</g></svg></body></html>
